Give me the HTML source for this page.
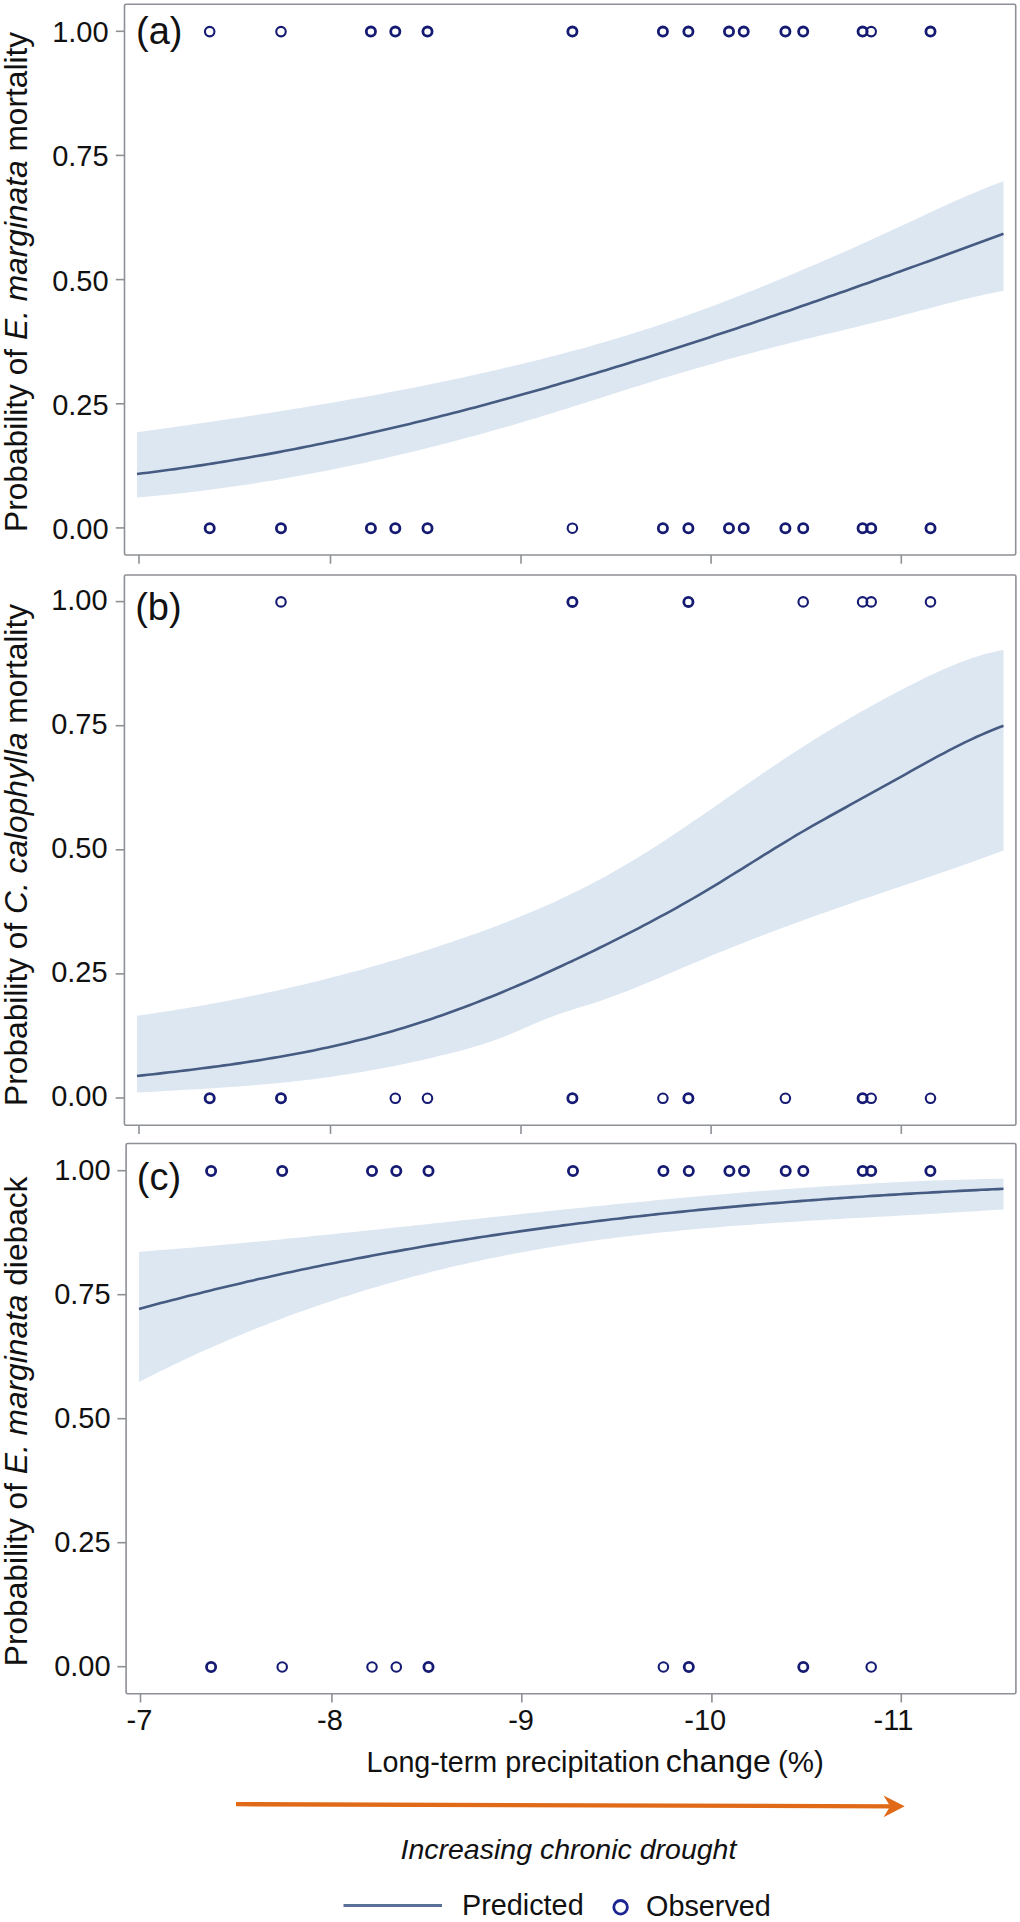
<!DOCTYPE html>
<html><head><meta charset="utf-8"><title>Figure</title>
<style>html,body{margin:0;padding:0;background:#fff;}svg{display:block;}</style>
</head><body>
<svg width="1020" height="1922" viewBox="0 0 1020 1922">
<rect width="1020" height="1922" fill="#fff"/>
<polygon points="137.0,432.3 142.4,431.5 147.9,430.8 153.3,430.0 158.8,429.2 164.2,428.5 169.7,427.7 175.1,426.9 180.6,426.1 186.0,425.4 191.5,424.6 196.9,423.8 202.4,423.0 207.8,422.2 213.3,421.4 218.7,420.6 224.2,419.8 229.6,419.0 235.1,418.2 240.5,417.4 246.0,416.5 251.4,415.7 256.9,414.9 262.3,414.0 267.8,413.2 273.2,412.3 278.7,411.5 284.1,410.6 289.6,409.7 295.0,408.8 300.5,407.9 305.9,407.0 311.4,406.1 316.8,405.2 322.3,404.3 327.7,403.4 333.2,402.5 338.6,401.5 344.1,400.6 349.5,399.6 355.0,398.6 360.4,397.7 365.9,396.7 371.3,395.7 376.8,394.7 382.2,393.7 387.7,392.6 393.1,391.6 398.6,390.6 404.0,389.5 409.5,388.4 414.9,387.4 420.4,386.3 425.8,385.2 431.3,384.1 436.7,383.0 442.2,381.8 447.6,380.7 453.1,379.5 458.5,378.4 464.0,377.2 469.4,376.0 474.9,374.8 480.3,373.6 485.8,372.4 491.2,371.1 496.7,369.9 502.1,368.6 507.6,367.3 513.0,366.0 518.5,364.7 523.9,363.4 529.4,362.1 534.8,360.7 540.3,359.4 545.7,358.0 551.2,356.6 556.6,355.2 562.1,353.7 567.5,352.3 573.0,350.8 578.4,349.4 583.9,347.9 589.3,346.4 594.8,344.8 600.2,343.3 605.7,341.7 611.1,340.1 616.6,338.5 622.0,336.8 627.5,335.2 632.9,333.5 638.4,331.8 643.8,330.0 649.3,328.3 654.7,326.5 660.2,324.7 665.6,322.8 671.1,321.0 676.5,319.1 682.0,317.2 687.4,315.2 692.9,313.3 698.3,311.3 703.8,309.3 709.2,307.3 714.7,305.2 720.1,303.2 725.6,301.1 731.0,299.0 736.5,296.8 741.9,294.7 747.4,292.5 752.8,290.4 758.3,288.2 763.7,286.0 769.2,283.8 774.6,281.5 780.1,279.3 785.5,277.0 791.0,274.7 796.4,272.4 801.9,270.1 807.3,267.8 812.8,265.5 818.2,263.2 823.7,260.8 829.1,258.4 834.6,256.1 840.0,253.7 845.5,251.3 850.9,248.9 856.4,246.5 861.8,244.0 867.3,241.6 872.7,239.1 878.2,236.6 883.6,234.1 889.1,231.6 894.5,229.1 900.0,226.6 905.4,224.1 910.9,221.5 916.3,219.0 921.8,216.4 927.2,213.8 932.7,211.3 938.1,208.8 943.6,206.3 949.0,203.8 954.5,201.3 959.9,198.9 965.4,196.5 970.8,194.2 976.3,191.9 981.7,189.6 987.2,187.5 992.6,185.3 998.1,183.3 1003.5,181.3 1003.5,290.8 998.1,291.8 992.6,292.9 987.2,294.0 981.7,295.2 976.3,296.4 970.8,297.7 965.4,299.0 959.9,300.3 954.5,301.7 949.0,303.1 943.6,304.5 938.1,306.0 932.7,307.4 927.2,308.9 921.8,310.3 916.3,311.8 910.9,313.2 905.4,314.6 900.0,316.1 894.5,317.5 889.1,318.9 883.6,320.2 878.2,321.6 872.7,322.9 867.3,324.3 861.8,325.6 856.4,326.9 850.9,328.2 845.5,329.6 840.0,330.9 834.6,332.2 829.1,333.5 823.7,334.8 818.2,336.1 812.8,337.4 807.3,338.8 801.9,340.1 796.4,341.5 791.0,342.8 785.5,344.2 780.1,345.6 774.6,347.0 769.2,348.4 763.7,349.8 758.3,351.2 752.8,352.7 747.4,354.2 741.9,355.6 736.5,357.1 731.0,358.6 725.6,360.1 720.1,361.6 714.7,363.2 709.2,364.7 703.8,366.3 698.3,367.8 692.9,369.4 687.4,371.0 682.0,372.6 676.5,374.2 671.1,375.8 665.6,377.5 660.2,379.1 654.7,380.8 649.3,382.5 643.8,384.2 638.4,385.9 632.9,387.6 627.5,389.3 622.0,391.0 616.6,392.8 611.1,394.5 605.7,396.2 600.2,398.0 594.8,399.7 589.3,401.5 583.9,403.2 578.4,404.9 573.0,406.6 567.5,408.4 562.1,410.1 556.6,411.8 551.2,413.5 545.7,415.1 540.3,416.8 534.8,418.4 529.4,420.1 523.9,421.7 518.5,423.3 513.0,424.9 507.6,426.5 502.1,428.0 496.7,429.6 491.2,431.1 485.8,432.7 480.3,434.2 474.9,435.7 469.4,437.1 464.0,438.6 458.5,440.1 453.1,441.5 447.6,442.9 442.2,444.3 436.7,445.7 431.3,447.1 425.8,448.5 420.4,449.8 414.9,451.2 409.5,452.5 404.0,453.8 398.6,455.1 393.1,456.3 387.7,457.6 382.2,458.9 376.8,460.1 371.3,461.3 365.9,462.5 360.4,463.7 355.0,464.8 349.5,466.0 344.1,467.1 338.6,468.2 333.2,469.3 327.7,470.4 322.3,471.5 316.8,472.5 311.4,473.6 305.9,474.6 300.5,475.6 295.0,476.6 289.6,477.6 284.1,478.5 278.7,479.4 273.2,480.4 267.8,481.3 262.3,482.1 256.9,483.0 251.4,483.9 246.0,484.7 240.5,485.5 235.1,486.3 229.6,487.1 224.2,487.8 218.7,488.6 213.3,489.3 207.8,490.0 202.4,490.7 196.9,491.4 191.5,492.0 186.0,492.7 180.6,493.3 175.1,493.9 169.7,494.5 164.2,495.0 158.8,495.6 153.3,496.1 147.9,496.6 142.4,497.1 137.0,497.6" fill="#dde7f2"/>
<polyline points="137.0,474.0 142.4,473.3 147.9,472.7 153.3,472.0 158.8,471.3 164.2,470.5 169.7,469.8 175.1,469.1 180.6,468.3 186.0,467.5 191.5,466.7 196.9,465.9 202.4,465.1 207.8,464.2 213.3,463.4 218.7,462.5 224.2,461.6 229.6,460.7 235.1,459.8 240.5,458.9 246.0,458.0 251.4,457.0 256.9,456.0 262.3,455.1 267.8,454.1 273.2,453.1 278.7,452.1 284.1,451.0 289.6,450.0 295.0,448.9 300.5,447.9 305.9,446.8 311.4,445.7 316.8,444.6 322.3,443.5 327.7,442.3 333.2,441.2 338.6,440.0 344.1,438.9 349.5,437.7 355.0,436.5 360.4,435.3 365.9,434.1 371.3,432.8 376.8,431.6 382.2,430.3 387.7,429.1 393.1,427.8 398.6,426.5 404.0,425.2 409.5,423.9 414.9,422.6 420.4,421.3 425.8,419.9 431.3,418.6 436.7,417.2 442.2,415.8 447.6,414.5 453.1,413.1 458.5,411.7 464.0,410.2 469.4,408.8 474.9,407.4 480.3,405.9 485.8,404.5 491.2,403.0 496.7,401.5 502.1,400.1 507.6,398.6 513.0,397.1 518.5,395.6 523.9,394.0 529.4,392.5 534.8,391.0 540.3,389.4 545.7,387.9 551.2,386.3 556.6,384.7 562.1,383.1 567.5,381.5 573.0,379.9 578.4,378.3 583.9,376.7 589.3,375.1 594.8,373.5 600.2,371.8 605.7,370.2 611.1,368.5 616.6,366.8 622.0,365.2 627.5,363.5 632.9,361.8 638.4,360.1 643.8,358.4 649.3,356.7 654.7,355.0 660.2,353.2 665.6,351.5 671.1,349.8 676.5,348.0 682.0,346.3 687.4,344.5 692.9,342.7 698.3,341.0 703.8,339.2 709.2,337.4 714.7,335.6 720.1,333.8 725.6,332.0 731.0,330.2 736.5,328.4 741.9,326.5 747.4,324.7 752.8,322.9 758.3,321.0 763.7,319.2 769.2,317.3 774.6,315.5 780.1,313.6 785.5,311.7 791.0,309.9 796.4,308.0 801.9,306.1 807.3,304.2 812.8,302.3 818.2,300.4 823.7,298.5 829.1,296.6 834.6,294.7 840.0,292.8 845.5,290.9 850.9,289.0 856.4,287.0 861.8,285.1 867.3,283.2 872.7,281.2 878.2,279.3 883.6,277.3 889.1,275.4 894.5,273.4 900.0,271.5 905.4,269.5 910.9,267.6 916.3,265.6 921.8,263.6 927.2,261.7 932.7,259.7 938.1,257.7 943.6,255.7 949.0,253.7 954.5,251.8 959.9,249.8 965.4,247.8 970.8,245.8 976.3,243.8 981.7,241.8 987.2,239.8 992.6,237.8 998.1,235.8 1003.5,233.8" fill="none" stroke="#465b82" stroke-width="2.6" stroke-linejoin="round"/>
<rect x="124.5" y="4.2" width="891.2" height="550.8" rx="1.5" fill="none" stroke="#8d9095" stroke-width="1.6"/>
<line x1="115.8" y1="31.3" x2="124.5" y2="31.3" stroke="#8d9095" stroke-width="1.6"/>
<text x="108.6" y="42.2" text-anchor="end" font-size="29" font-family='"Liberation Sans", Arial, sans-serif' fill="#111">1.00</text>
<line x1="115.8" y1="155.4" x2="124.5" y2="155.4" stroke="#8d9095" stroke-width="1.6"/>
<text x="108.6" y="166.3" text-anchor="end" font-size="29" font-family='"Liberation Sans", Arial, sans-serif' fill="#111">0.75</text>
<line x1="115.8" y1="279.6" x2="124.5" y2="279.6" stroke="#8d9095" stroke-width="1.6"/>
<text x="108.6" y="290.5" text-anchor="end" font-size="29" font-family='"Liberation Sans", Arial, sans-serif' fill="#111">0.50</text>
<line x1="115.8" y1="403.8" x2="124.5" y2="403.8" stroke="#8d9095" stroke-width="1.6"/>
<text x="108.6" y="414.6" text-anchor="end" font-size="29" font-family='"Liberation Sans", Arial, sans-serif' fill="#111">0.25</text>
<line x1="115.8" y1="527.9" x2="124.5" y2="527.9" stroke="#8d9095" stroke-width="1.6"/>
<text x="108.6" y="538.8" text-anchor="end" font-size="29" font-family='"Liberation Sans", Arial, sans-serif' fill="#111">0.00</text>
<line x1="139" y1="555.0" x2="139" y2="563.7" stroke="#8d9095" stroke-width="1.6"/>
<line x1="330.5" y1="555.0" x2="330.5" y2="563.7" stroke="#8d9095" stroke-width="1.6"/>
<line x1="521" y1="555.0" x2="521" y2="563.7" stroke="#8d9095" stroke-width="1.6"/>
<line x1="711.1" y1="555.0" x2="711.1" y2="563.7" stroke="#8d9095" stroke-width="1.6"/>
<line x1="901.3" y1="555.0" x2="901.3" y2="563.7" stroke="#8d9095" stroke-width="1.6"/>
<text x="136.0" y="43.6" font-size="38" font-family='"Liberation Sans", Arial, sans-serif' fill="#111">(a)</text>
<text transform="translate(27.2,532.0) rotate(-90)" font-size="31.7" font-family='"Liberation Sans", Arial, sans-serif' fill="#111">Probability of <tspan font-style="italic">E. marginata</tspan> mortality</text>
<circle cx="209.7" cy="31.6" r="4.75" fill="none" stroke="#151b73" stroke-width="2.1"/>
<circle cx="281.0" cy="31.6" r="4.75" fill="none" stroke="#151b73" stroke-width="2.1"/>
<circle cx="370.9" cy="31.6" r="4.6" fill="none" stroke="#151b73" stroke-width="2.8"/>
<circle cx="395.3" cy="31.6" r="4.6" fill="none" stroke="#151b73" stroke-width="2.8"/>
<circle cx="427.5" cy="31.6" r="4.6" fill="none" stroke="#151b73" stroke-width="2.8"/>
<circle cx="572.4" cy="31.6" r="4.6" fill="none" stroke="#151b73" stroke-width="2.8"/>
<circle cx="662.9" cy="31.6" r="4.6" fill="none" stroke="#151b73" stroke-width="2.8"/>
<circle cx="688.4" cy="31.6" r="4.6" fill="none" stroke="#151b73" stroke-width="2.8"/>
<circle cx="729.0" cy="31.6" r="4.6" fill="none" stroke="#151b73" stroke-width="2.8"/>
<circle cx="743.7" cy="31.6" r="4.6" fill="none" stroke="#151b73" stroke-width="2.8"/>
<circle cx="785.4" cy="31.6" r="4.6" fill="none" stroke="#151b73" stroke-width="2.8"/>
<circle cx="803.2" cy="31.6" r="4.6" fill="none" stroke="#151b73" stroke-width="2.8"/>
<circle cx="862.6" cy="31.6" r="4.6" fill="none" stroke="#151b73" stroke-width="2.8"/>
<circle cx="871.2" cy="31.6" r="4.75" fill="none" stroke="#151b73" stroke-width="2.1"/>
<circle cx="930.5" cy="31.6" r="4.6" fill="none" stroke="#151b73" stroke-width="2.8"/>
<circle cx="209.7" cy="528.2" r="4.6" fill="none" stroke="#151b73" stroke-width="2.8"/>
<circle cx="281.0" cy="528.2" r="4.6" fill="none" stroke="#151b73" stroke-width="2.8"/>
<circle cx="370.9" cy="528.2" r="4.6" fill="none" stroke="#151b73" stroke-width="2.8"/>
<circle cx="395.3" cy="528.2" r="4.6" fill="none" stroke="#151b73" stroke-width="2.8"/>
<circle cx="427.5" cy="528.2" r="4.6" fill="none" stroke="#151b73" stroke-width="2.8"/>
<circle cx="572.4" cy="528.2" r="4.75" fill="none" stroke="#151b73" stroke-width="2.1"/>
<circle cx="662.9" cy="528.2" r="4.6" fill="none" stroke="#151b73" stroke-width="2.8"/>
<circle cx="688.4" cy="528.2" r="4.6" fill="none" stroke="#151b73" stroke-width="2.8"/>
<circle cx="729.0" cy="528.2" r="4.6" fill="none" stroke="#151b73" stroke-width="2.8"/>
<circle cx="743.7" cy="528.2" r="4.6" fill="none" stroke="#151b73" stroke-width="2.8"/>
<circle cx="785.4" cy="528.2" r="4.6" fill="none" stroke="#151b73" stroke-width="2.8"/>
<circle cx="803.2" cy="528.2" r="4.6" fill="none" stroke="#151b73" stroke-width="2.8"/>
<circle cx="862.6" cy="528.2" r="4.6" fill="none" stroke="#151b73" stroke-width="2.8"/>
<circle cx="871.2" cy="528.2" r="4.6" fill="none" stroke="#151b73" stroke-width="2.8"/>
<circle cx="930.5" cy="528.2" r="4.6" fill="none" stroke="#151b73" stroke-width="2.8"/>
<polygon points="137.0,1015.7 142.4,1015.0 147.9,1014.2 153.3,1013.4 158.8,1012.6 164.2,1011.7 169.7,1010.9 175.1,1010.0 180.6,1009.1 186.0,1008.2 191.5,1007.3 196.9,1006.4 202.4,1005.4 207.8,1004.4 213.3,1003.4 218.7,1002.4 224.2,1001.4 229.6,1000.4 235.1,999.3 240.5,998.2 246.0,997.1 251.4,996.0 256.9,994.9 262.3,993.7 267.8,992.6 273.2,991.4 278.7,990.2 284.1,989.0 289.6,987.7 295.0,986.5 300.5,985.2 305.9,983.9 311.4,982.6 316.8,981.2 322.3,979.9 327.7,978.5 333.2,977.1 338.6,975.7 344.1,974.3 349.5,972.8 355.0,971.4 360.4,969.9 365.9,968.4 371.3,966.8 376.8,965.3 382.2,963.7 387.7,962.1 393.1,960.5 398.6,958.9 404.0,957.2 409.5,955.6 414.9,953.9 420.4,952.2 425.8,950.4 431.3,948.7 436.7,946.9 442.2,945.1 447.6,943.3 453.1,941.5 458.5,939.6 464.0,937.7 469.4,935.8 474.9,933.9 480.3,931.9 485.8,929.9 491.2,927.9 496.7,925.9 502.1,923.8 507.6,921.7 513.0,919.5 518.5,917.3 523.9,915.1 529.4,912.8 534.8,910.5 540.3,908.2 545.7,905.8 551.2,903.4 556.6,900.9 562.1,898.3 567.5,895.8 573.0,893.1 578.4,890.5 583.9,887.7 589.3,884.9 594.8,882.1 600.2,879.2 605.7,876.2 611.1,873.2 616.6,870.1 622.0,867.0 627.5,863.8 632.9,860.5 638.4,857.2 643.8,853.8 649.3,850.4 654.7,846.9 660.2,843.4 665.6,839.9 671.1,836.3 676.5,832.7 682.0,829.0 687.4,825.3 692.9,821.6 698.3,817.9 703.8,814.2 709.2,810.4 714.7,806.7 720.1,802.9 725.6,799.1 731.0,795.3 736.5,791.5 741.9,787.8 747.4,784.0 752.8,780.2 758.3,776.5 763.7,772.8 769.2,769.1 774.6,765.4 780.1,761.7 785.5,758.1 791.0,754.5 796.4,750.9 801.9,747.4 807.3,743.9 812.8,740.5 818.2,737.1 823.7,733.8 829.1,730.4 834.6,727.2 840.0,723.9 845.5,720.7 850.9,717.5 856.4,714.4 861.8,711.3 867.3,708.2 872.7,705.2 878.2,702.2 883.6,699.3 889.1,696.3 894.5,693.4 900.0,690.6 905.4,687.7 910.9,684.9 916.3,682.2 921.8,679.5 927.2,676.8 932.7,674.2 938.1,671.7 943.6,669.3 949.0,667.0 954.5,664.7 959.9,662.6 965.4,660.5 970.8,658.6 976.3,656.8 981.7,655.1 987.2,653.6 992.6,652.2 998.1,651.0 1003.5,649.9 1003.5,850.4 998.1,852.5 992.6,854.5 987.2,856.5 981.7,858.5 976.3,860.5 970.8,862.4 965.4,864.3 959.9,866.3 954.5,868.2 949.0,870.1 943.6,871.9 938.1,873.8 932.7,875.7 927.2,877.5 921.8,879.4 916.3,881.2 910.9,883.1 905.4,884.9 900.0,886.8 894.5,888.6 889.1,890.4 883.6,892.3 878.2,894.1 872.7,895.9 867.3,897.8 861.8,899.6 856.4,901.5 850.9,903.4 845.5,905.3 840.0,907.2 834.6,909.1 829.1,911.0 823.7,912.9 818.2,914.8 812.8,916.8 807.3,918.7 801.9,920.7 796.4,922.7 791.0,924.7 785.5,926.7 780.1,928.7 774.6,930.8 769.2,932.8 763.7,934.9 758.3,937.0 752.8,939.1 747.4,941.2 741.9,943.4 736.5,945.5 731.0,947.7 725.6,949.9 720.1,952.1 714.7,954.3 709.2,956.6 703.8,958.9 698.3,961.2 692.9,963.5 687.4,965.8 682.0,968.1 676.5,970.5 671.1,972.8 665.6,975.1 660.2,977.5 654.7,979.8 649.3,982.1 643.8,984.3 638.4,986.5 632.9,988.7 627.5,990.9 622.0,993.0 616.6,995.1 611.1,997.0 605.7,999.0 600.2,1000.9 594.8,1002.7 589.3,1004.4 583.9,1006.1 578.4,1007.8 573.0,1009.6 567.5,1011.3 562.1,1013.1 556.6,1015.0 551.2,1017.0 545.7,1019.1 540.3,1021.3 534.8,1023.6 529.4,1026.0 523.9,1028.3 518.5,1030.7 513.0,1033.0 507.6,1035.2 502.1,1037.4 496.7,1039.5 491.2,1041.4 485.8,1043.2 480.3,1045.0 474.9,1046.6 469.4,1048.2 464.0,1049.7 458.5,1051.2 453.1,1052.6 447.6,1053.9 442.2,1055.3 436.7,1056.6 431.3,1057.9 425.8,1059.2 420.4,1060.4 414.9,1061.6 409.5,1062.8 404.0,1063.9 398.6,1065.1 393.1,1066.2 387.7,1067.2 382.2,1068.3 376.8,1069.3 371.3,1070.3 365.9,1071.2 360.4,1072.2 355.0,1073.1 349.5,1074.0 344.1,1074.8 338.6,1075.6 333.2,1076.4 327.7,1077.2 322.3,1078.0 316.8,1078.7 311.4,1079.4 305.9,1080.1 300.5,1080.7 295.0,1081.3 289.6,1081.9 284.1,1082.5 278.7,1083.0 273.2,1083.6 267.8,1084.1 262.3,1084.6 256.9,1085.0 251.4,1085.5 246.0,1085.9 240.5,1086.3 235.1,1086.7 229.6,1087.1 224.2,1087.5 218.7,1087.8 213.3,1088.2 207.8,1088.5 202.4,1088.9 196.9,1089.2 191.5,1089.5 186.0,1089.8 180.6,1090.1 175.1,1090.5 169.7,1090.8 164.2,1091.1 158.8,1091.4 153.3,1091.7 147.9,1092.0 142.4,1092.3 137.0,1092.6" fill="#dde7f2"/>
<polyline points="137.0,1076.0 142.4,1075.4 147.9,1074.8 153.3,1074.2 158.8,1073.6 164.2,1072.9 169.7,1072.3 175.1,1071.7 180.6,1071.0 186.0,1070.4 191.5,1069.7 196.9,1069.0 202.4,1068.3 207.8,1067.6 213.3,1066.9 218.7,1066.2 224.2,1065.4 229.6,1064.7 235.1,1063.9 240.5,1063.1 246.0,1062.3 251.4,1061.4 256.9,1060.6 262.3,1059.7 267.8,1058.8 273.2,1057.9 278.7,1057.0 284.1,1056.0 289.6,1055.0 295.0,1054.0 300.5,1053.0 305.9,1051.9 311.4,1050.9 316.8,1049.7 322.3,1048.6 327.7,1047.4 333.2,1046.2 338.6,1045.0 344.1,1043.8 349.5,1042.5 355.0,1041.1 360.4,1039.8 365.9,1038.4 371.3,1037.0 376.8,1035.5 382.2,1034.0 387.7,1032.5 393.1,1030.9 398.6,1029.3 404.0,1027.7 409.5,1026.0 414.9,1024.3 420.4,1022.6 425.8,1020.8 431.3,1018.9 436.7,1017.1 442.2,1015.2 447.6,1013.3 453.1,1011.3 458.5,1009.3 464.0,1007.3 469.4,1005.2 474.9,1003.1 480.3,1001.0 485.8,998.8 491.2,996.7 496.7,994.5 502.1,992.2 507.6,989.9 513.0,987.6 518.5,985.3 523.9,983.0 529.4,980.6 534.8,978.2 540.3,975.8 545.7,973.3 551.2,970.8 556.6,968.3 562.1,965.8 567.5,963.2 573.0,960.7 578.4,958.1 583.9,955.5 589.3,952.8 594.8,950.2 600.2,947.5 605.7,944.8 611.1,942.1 616.6,939.4 622.0,936.7 627.5,933.9 632.9,931.1 638.4,928.3 643.8,925.4 649.3,922.6 654.7,919.7 660.2,916.7 665.6,913.8 671.1,910.8 676.5,907.8 682.0,904.7 687.4,901.7 692.9,898.5 698.3,895.3 703.8,892.1 709.2,888.9 714.7,885.6 720.1,882.3 725.6,878.9 731.0,875.5 736.5,872.2 741.9,868.8 747.4,865.4 752.8,862.0 758.3,858.6 763.7,855.2 769.2,851.8 774.6,848.4 780.1,845.1 785.5,841.8 791.0,838.5 796.4,835.2 801.9,832.0 807.3,828.9 812.8,825.7 818.2,822.6 823.7,819.6 829.1,816.5 834.6,813.5 840.0,810.5 845.5,807.5 850.9,804.4 856.4,801.4 861.8,798.4 867.3,795.4 872.7,792.4 878.2,789.4 883.6,786.4 889.1,783.4 894.5,780.3 900.0,777.3 905.4,774.3 910.9,771.2 916.3,768.2 921.8,765.1 927.2,762.1 932.7,759.2 938.1,756.2 943.6,753.3 949.0,750.4 954.5,747.6 959.9,744.9 965.4,742.2 970.8,739.6 976.3,737.0 981.7,734.6 987.2,732.2 992.6,730.0 998.1,727.8 1003.5,725.8" fill="none" stroke="#465b82" stroke-width="2.6" stroke-linejoin="round"/>
<rect x="124.4" y="575.0" width="891.5" height="550.2" rx="1.5" fill="none" stroke="#8d9095" stroke-width="1.6"/>
<line x1="115.7" y1="601.6" x2="124.4" y2="601.6" stroke="#8d9095" stroke-width="1.6"/>
<text x="107.6" y="609.6" text-anchor="end" font-size="29" font-family='"Liberation Sans", Arial, sans-serif' fill="#111">1.00</text>
<line x1="115.7" y1="725.7" x2="124.4" y2="725.7" stroke="#8d9095" stroke-width="1.6"/>
<text x="107.6" y="733.7" text-anchor="end" font-size="29" font-family='"Liberation Sans", Arial, sans-serif' fill="#111">0.75</text>
<line x1="115.7" y1="849.8" x2="124.4" y2="849.8" stroke="#8d9095" stroke-width="1.6"/>
<text x="107.6" y="857.8" text-anchor="end" font-size="29" font-family='"Liberation Sans", Arial, sans-serif' fill="#111">0.50</text>
<line x1="115.7" y1="973.9" x2="124.4" y2="973.9" stroke="#8d9095" stroke-width="1.6"/>
<text x="107.6" y="981.9" text-anchor="end" font-size="29" font-family='"Liberation Sans", Arial, sans-serif' fill="#111">0.25</text>
<line x1="115.7" y1="1098.0" x2="124.4" y2="1098.0" stroke="#8d9095" stroke-width="1.6"/>
<text x="107.6" y="1106.0" text-anchor="end" font-size="29" font-family='"Liberation Sans", Arial, sans-serif' fill="#111">0.00</text>
<line x1="139" y1="1125.2" x2="139" y2="1133.9" stroke="#8d9095" stroke-width="1.6"/>
<line x1="330.5" y1="1125.2" x2="330.5" y2="1133.9" stroke="#8d9095" stroke-width="1.6"/>
<line x1="521" y1="1125.2" x2="521" y2="1133.9" stroke="#8d9095" stroke-width="1.6"/>
<line x1="711.1" y1="1125.2" x2="711.1" y2="1133.9" stroke="#8d9095" stroke-width="1.6"/>
<line x1="901.3" y1="1125.2" x2="901.3" y2="1133.9" stroke="#8d9095" stroke-width="1.6"/>
<text x="135.2" y="619.6" font-size="38" font-family='"Liberation Sans", Arial, sans-serif' fill="#111">(b)</text>
<text transform="translate(27.2,1105.9) rotate(-90)" font-size="31.7" font-family='"Liberation Sans", Arial, sans-serif' fill="#111">Probability of <tspan font-style="italic">C. calophylla</tspan> mortality</text>
<circle cx="281.0" cy="601.9" r="4.75" fill="none" stroke="#151b73" stroke-width="2.1"/>
<circle cx="572.4" cy="601.9" r="4.6" fill="none" stroke="#151b73" stroke-width="2.8"/>
<circle cx="688.4" cy="601.9" r="4.6" fill="none" stroke="#151b73" stroke-width="2.8"/>
<circle cx="803.2" cy="601.9" r="4.75" fill="none" stroke="#151b73" stroke-width="2.1"/>
<circle cx="862.6" cy="601.9" r="4.75" fill="none" stroke="#151b73" stroke-width="2.1"/>
<circle cx="871.2" cy="601.9" r="4.75" fill="none" stroke="#151b73" stroke-width="2.1"/>
<circle cx="930.5" cy="601.9" r="4.75" fill="none" stroke="#151b73" stroke-width="2.1"/>
<circle cx="209.7" cy="1098.3" r="4.6" fill="none" stroke="#151b73" stroke-width="2.8"/>
<circle cx="281.0" cy="1098.3" r="4.6" fill="none" stroke="#151b73" stroke-width="2.8"/>
<circle cx="395.3" cy="1098.3" r="4.75" fill="none" stroke="#151b73" stroke-width="2.1"/>
<circle cx="427.5" cy="1098.3" r="4.75" fill="none" stroke="#151b73" stroke-width="2.1"/>
<circle cx="572.4" cy="1098.3" r="4.6" fill="none" stroke="#151b73" stroke-width="2.8"/>
<circle cx="662.9" cy="1098.3" r="4.75" fill="none" stroke="#151b73" stroke-width="2.1"/>
<circle cx="688.4" cy="1098.3" r="4.6" fill="none" stroke="#151b73" stroke-width="2.8"/>
<circle cx="785.4" cy="1098.3" r="4.75" fill="none" stroke="#151b73" stroke-width="2.1"/>
<circle cx="862.6" cy="1098.3" r="4.6" fill="none" stroke="#151b73" stroke-width="2.8"/>
<circle cx="871.2" cy="1098.3" r="4.75" fill="none" stroke="#151b73" stroke-width="2.1"/>
<circle cx="930.5" cy="1098.3" r="4.75" fill="none" stroke="#151b73" stroke-width="2.1"/>
<polygon points="139.0,1251.8 144.4,1251.4 149.9,1251.0 155.3,1250.5 160.7,1250.1 166.2,1249.7 171.6,1249.2 177.1,1248.8 182.5,1248.3 187.9,1247.9 193.4,1247.4 198.8,1246.9 204.2,1246.5 209.7,1246.0 215.1,1245.5 220.6,1245.0 226.0,1244.5 231.4,1244.0 236.9,1243.5 242.3,1243.0 247.7,1242.5 253.2,1242.0 258.6,1241.5 264.1,1241.0 269.5,1240.4 274.9,1239.9 280.4,1239.4 285.8,1238.8 291.2,1238.3 296.7,1237.8 302.1,1237.2 307.6,1236.7 313.0,1236.1 318.4,1235.6 323.9,1235.0 329.3,1234.5 334.7,1233.9 340.2,1233.3 345.6,1232.8 351.0,1232.2 356.5,1231.7 361.9,1231.1 367.4,1230.5 372.8,1229.9 378.2,1229.4 383.7,1228.8 389.1,1228.2 394.5,1227.6 400.0,1227.1 405.4,1226.5 410.9,1225.9 416.3,1225.3 421.7,1224.7 427.2,1224.2 432.6,1223.6 438.0,1223.0 443.5,1222.4 448.9,1221.8 454.4,1221.2 459.8,1220.6 465.2,1220.1 470.7,1219.5 476.1,1218.9 481.5,1218.3 487.0,1217.7 492.4,1217.1 497.8,1216.6 503.3,1216.0 508.7,1215.4 514.2,1214.8 519.6,1214.2 525.0,1213.6 530.5,1213.1 535.9,1212.5 541.3,1211.9 546.8,1211.3 552.2,1210.8 557.7,1210.2 563.1,1209.6 568.5,1209.1 574.0,1208.5 579.4,1207.9 584.8,1207.4 590.3,1206.8 595.7,1206.3 601.2,1205.7 606.6,1205.2 612.0,1204.6 617.5,1204.1 622.9,1203.5 628.3,1203.0 633.8,1202.5 639.2,1201.9 644.7,1201.4 650.1,1200.9 655.5,1200.3 661.0,1199.8 666.4,1199.3 671.8,1198.8 677.3,1198.3 682.7,1197.8 688.1,1197.3 693.6,1196.8 699.0,1196.3 704.5,1195.8 709.9,1195.3 715.3,1194.9 720.8,1194.4 726.2,1193.9 731.6,1193.4 737.1,1193.0 742.5,1192.5 748.0,1192.1 753.4,1191.6 758.8,1191.2 764.3,1190.8 769.7,1190.4 775.1,1189.9 780.6,1189.5 786.0,1189.1 791.5,1188.7 796.9,1188.3 802.3,1187.9 807.8,1187.5 813.2,1187.2 818.6,1186.8 824.1,1186.4 829.5,1186.1 834.9,1185.7 840.4,1185.4 845.8,1185.0 851.3,1184.7 856.7,1184.4 862.1,1184.0 867.6,1183.7 873.0,1183.4 878.4,1183.1 883.9,1182.9 889.3,1182.6 894.8,1182.3 900.2,1182.0 905.6,1181.8 911.1,1181.5 916.5,1181.3 921.9,1181.1 927.4,1180.8 932.8,1180.6 938.3,1180.4 943.7,1180.2 949.1,1180.0 954.6,1179.9 960.0,1179.7 965.4,1179.5 970.9,1179.4 976.3,1179.2 981.8,1179.1 987.2,1179.0 992.6,1178.9 998.1,1178.8 1003.5,1178.7 1003.5,1209.4 998.1,1209.7 992.6,1210.1 987.2,1210.5 981.8,1210.8 976.3,1211.2 970.9,1211.5 965.4,1211.8 960.0,1212.2 954.6,1212.5 949.1,1212.8 943.7,1213.1 938.3,1213.5 932.8,1213.8 927.4,1214.1 921.9,1214.4 916.5,1214.7 911.1,1215.0 905.6,1215.3 900.2,1215.6 894.8,1215.9 889.3,1216.2 883.9,1216.5 878.4,1216.8 873.0,1217.1 867.6,1217.4 862.1,1217.7 856.7,1218.0 851.3,1218.3 845.8,1218.6 840.4,1218.9 834.9,1219.2 829.5,1219.5 824.1,1219.9 818.6,1220.2 813.2,1220.5 807.8,1220.8 802.3,1221.2 796.9,1221.5 791.5,1221.9 786.0,1222.2 780.6,1222.6 775.1,1222.9 769.7,1223.3 764.3,1223.7 758.8,1224.1 753.4,1224.5 748.0,1224.9 742.5,1225.3 737.1,1225.7 731.6,1226.1 726.2,1226.5 720.8,1227.0 715.3,1227.4 709.9,1227.9 704.5,1228.3 699.0,1228.8 693.6,1229.3 688.1,1229.8 682.7,1230.3 677.3,1230.9 671.8,1231.4 666.4,1232.0 661.0,1232.5 655.5,1233.1 650.1,1233.7 644.7,1234.3 639.2,1234.9 633.8,1235.5 628.3,1236.2 622.9,1236.8 617.5,1237.5 612.0,1238.2 606.6,1238.9 601.2,1239.6 595.7,1240.4 590.3,1241.1 584.8,1241.9 579.4,1242.7 574.0,1243.5 568.5,1244.3 563.1,1245.2 557.7,1246.1 552.2,1246.9 546.8,1247.8 541.3,1248.8 535.9,1249.7 530.5,1250.7 525.0,1251.7 519.6,1252.7 514.2,1253.7 508.7,1254.7 503.3,1255.8 497.8,1256.9 492.4,1258.0 487.0,1259.1 481.5,1260.3 476.1,1261.4 470.7,1262.6 465.2,1263.9 459.8,1265.1 454.4,1266.3 448.9,1267.6 443.5,1268.9 438.0,1270.3 432.6,1271.6 427.2,1273.0 421.7,1274.4 416.3,1275.8 410.9,1277.2 405.4,1278.7 400.0,1280.2 394.5,1281.7 389.1,1283.2 383.7,1284.8 378.2,1286.4 372.8,1288.0 367.4,1289.6 361.9,1291.3 356.5,1293.0 351.0,1294.7 345.6,1296.4 340.2,1298.1 334.7,1299.9 329.3,1301.7 323.9,1303.6 318.4,1305.4 313.0,1307.3 307.6,1309.2 302.1,1311.2 296.7,1313.1 291.2,1315.1 285.8,1317.1 280.4,1319.2 274.9,1321.2 269.5,1323.3 264.1,1325.4 258.6,1327.6 253.2,1329.8 247.7,1332.0 242.3,1334.2 236.9,1336.5 231.4,1338.8 226.0,1341.1 220.6,1343.4 215.1,1345.8 209.7,1348.2 204.2,1350.6 198.8,1353.1 193.4,1355.6 187.9,1358.1 182.5,1360.6 177.1,1363.2 171.6,1365.8 166.2,1368.4 160.7,1371.1 155.3,1373.8 149.9,1376.5 144.4,1379.3 139.0,1382.0" fill="#dde7f2"/>
<polyline points="139.0,1308.9 144.4,1307.5 149.9,1306.0 155.3,1304.6 160.7,1303.1 166.2,1301.7 171.6,1300.3 177.1,1298.9 182.5,1297.5 187.9,1296.1 193.4,1294.7 198.8,1293.4 204.2,1292.0 209.7,1290.7 215.1,1289.3 220.6,1288.0 226.0,1286.7 231.4,1285.4 236.9,1284.2 242.3,1282.9 247.7,1281.6 253.2,1280.4 258.6,1279.1 264.1,1277.9 269.5,1276.7 274.9,1275.5 280.4,1274.3 285.8,1273.1 291.2,1271.9 296.7,1270.8 302.1,1269.6 307.6,1268.5 313.0,1267.3 318.4,1266.2 323.9,1265.1 329.3,1264.0 334.7,1262.9 340.2,1261.8 345.6,1260.8 351.0,1259.7 356.5,1258.6 361.9,1257.6 367.4,1256.6 372.8,1255.5 378.2,1254.5 383.7,1253.5 389.1,1252.5 394.5,1251.6 400.0,1250.6 405.4,1249.6 410.9,1248.7 416.3,1247.7 421.7,1246.8 427.2,1245.8 432.6,1244.9 438.0,1244.0 443.5,1243.1 448.9,1242.2 454.4,1241.3 459.8,1240.5 465.2,1239.6 470.7,1238.7 476.1,1237.9 481.5,1237.0 487.0,1236.2 492.4,1235.4 497.8,1234.6 503.3,1233.8 508.7,1233.0 514.2,1232.2 519.6,1231.4 525.0,1230.6 530.5,1229.9 535.9,1229.1 541.3,1228.4 546.8,1227.6 552.2,1226.9 557.7,1226.2 563.1,1225.4 568.5,1224.7 574.0,1224.0 579.4,1223.3 584.8,1222.7 590.3,1222.0 595.7,1221.3 601.2,1220.6 606.6,1220.0 612.0,1219.3 617.5,1218.7 622.9,1218.1 628.3,1217.4 633.8,1216.8 639.2,1216.2 644.7,1215.6 650.1,1215.0 655.5,1214.4 661.0,1213.8 666.4,1213.3 671.8,1212.7 677.3,1212.1 682.7,1211.6 688.1,1211.0 693.6,1210.5 699.0,1209.9 704.5,1209.4 709.9,1208.9 715.3,1208.4 720.8,1207.9 726.2,1207.4 731.6,1206.9 737.1,1206.4 742.5,1205.9 748.0,1205.4 753.4,1204.9 758.8,1204.5 764.3,1204.0 769.7,1203.5 775.1,1203.1 780.6,1202.7 786.0,1202.2 791.5,1201.8 796.9,1201.4 802.3,1200.9 807.8,1200.5 813.2,1200.1 818.6,1199.7 824.1,1199.3 829.5,1198.9 834.9,1198.5 840.4,1198.1 845.8,1197.8 851.3,1197.4 856.7,1197.0 862.1,1196.7 867.6,1196.3 873.0,1195.9 878.4,1195.6 883.9,1195.3 889.3,1194.9 894.8,1194.6 900.2,1194.3 905.6,1193.9 911.1,1193.6 916.5,1193.3 921.9,1193.0 927.4,1192.7 932.8,1192.4 938.3,1192.1 943.7,1191.8 949.1,1191.5 954.6,1191.2 960.0,1190.9 965.4,1190.6 970.9,1190.4 976.3,1190.1 981.8,1189.8 987.2,1189.6 992.6,1189.3 998.1,1189.1 1003.5,1188.8" fill="none" stroke="#465b82" stroke-width="2.6" stroke-linejoin="round"/>
<rect x="126.1" y="1143.5" width="889.8" height="550.3" rx="1.5" fill="none" stroke="#8d9095" stroke-width="1.6"/>
<line x1="117.4" y1="1170.7" x2="126.1" y2="1170.7" stroke="#8d9095" stroke-width="1.6"/>
<text x="110.6" y="1180.4" text-anchor="end" font-size="29" font-family='"Liberation Sans", Arial, sans-serif' fill="#111">1.00</text>
<line x1="117.4" y1="1294.7" x2="126.1" y2="1294.7" stroke="#8d9095" stroke-width="1.6"/>
<text x="110.6" y="1304.4" text-anchor="end" font-size="29" font-family='"Liberation Sans", Arial, sans-serif' fill="#111">0.75</text>
<line x1="117.4" y1="1418.7" x2="126.1" y2="1418.7" stroke="#8d9095" stroke-width="1.6"/>
<text x="110.6" y="1428.4" text-anchor="end" font-size="29" font-family='"Liberation Sans", Arial, sans-serif' fill="#111">0.50</text>
<line x1="117.4" y1="1542.7" x2="126.1" y2="1542.7" stroke="#8d9095" stroke-width="1.6"/>
<text x="110.6" y="1552.4" text-anchor="end" font-size="29" font-family='"Liberation Sans", Arial, sans-serif' fill="#111">0.25</text>
<line x1="117.4" y1="1666.7" x2="126.1" y2="1666.7" stroke="#8d9095" stroke-width="1.6"/>
<text x="110.6" y="1676.4" text-anchor="end" font-size="29" font-family='"Liberation Sans", Arial, sans-serif' fill="#111">0.00</text>
<line x1="140.5" y1="1693.8" x2="140.5" y2="1702.5" stroke="#8d9095" stroke-width="1.6"/>
<line x1="331.9" y1="1693.8" x2="331.9" y2="1702.5" stroke="#8d9095" stroke-width="1.6"/>
<line x1="521.8" y1="1693.8" x2="521.8" y2="1702.5" stroke="#8d9095" stroke-width="1.6"/>
<line x1="711.9" y1="1693.8" x2="711.9" y2="1702.5" stroke="#8d9095" stroke-width="1.6"/>
<line x1="901.3" y1="1693.8" x2="901.3" y2="1702.5" stroke="#8d9095" stroke-width="1.6"/>
<text x="136.8" y="1189.5" font-size="38" font-family='"Liberation Sans", Arial, sans-serif' fill="#111">(c)</text>
<text transform="translate(27.2,1666.2) rotate(-90)" font-size="31.7" font-family='"Liberation Sans", Arial, sans-serif' fill="#111">Probability of <tspan font-style="italic">E. marginata</tspan> dieback</text>
<circle cx="211.1" cy="1171.0" r="4.6" fill="none" stroke="#151b73" stroke-width="2.8"/>
<circle cx="282.2" cy="1171.0" r="4.6" fill="none" stroke="#151b73" stroke-width="2.8"/>
<circle cx="372.0" cy="1171.0" r="4.6" fill="none" stroke="#151b73" stroke-width="2.8"/>
<circle cx="396.3" cy="1171.0" r="4.6" fill="none" stroke="#151b73" stroke-width="2.8"/>
<circle cx="428.5" cy="1171.0" r="4.6" fill="none" stroke="#151b73" stroke-width="2.8"/>
<circle cx="573.0" cy="1171.0" r="4.6" fill="none" stroke="#151b73" stroke-width="2.8"/>
<circle cx="663.4" cy="1171.0" r="4.6" fill="none" stroke="#151b73" stroke-width="2.8"/>
<circle cx="688.8" cy="1171.0" r="4.6" fill="none" stroke="#151b73" stroke-width="2.8"/>
<circle cx="729.4" cy="1171.0" r="4.6" fill="none" stroke="#151b73" stroke-width="2.8"/>
<circle cx="744.0" cy="1171.0" r="4.6" fill="none" stroke="#151b73" stroke-width="2.8"/>
<circle cx="785.7" cy="1171.0" r="4.6" fill="none" stroke="#151b73" stroke-width="2.8"/>
<circle cx="803.3" cy="1171.0" r="4.6" fill="none" stroke="#151b73" stroke-width="2.8"/>
<circle cx="862.7" cy="1171.0" r="4.6" fill="none" stroke="#151b73" stroke-width="2.8"/>
<circle cx="871.2" cy="1171.0" r="4.6" fill="none" stroke="#151b73" stroke-width="2.8"/>
<circle cx="930.4" cy="1171.0" r="4.6" fill="none" stroke="#151b73" stroke-width="2.8"/>
<circle cx="211.1" cy="1667.0" r="4.6" fill="none" stroke="#151b73" stroke-width="2.8"/>
<circle cx="282.2" cy="1667.0" r="4.75" fill="none" stroke="#151b73" stroke-width="2.1"/>
<circle cx="372.0" cy="1667.0" r="4.75" fill="none" stroke="#151b73" stroke-width="2.1"/>
<circle cx="396.3" cy="1667.0" r="4.75" fill="none" stroke="#151b73" stroke-width="2.1"/>
<circle cx="428.5" cy="1667.0" r="4.6" fill="none" stroke="#151b73" stroke-width="2.8"/>
<circle cx="663.4" cy="1667.0" r="4.75" fill="none" stroke="#151b73" stroke-width="2.1"/>
<circle cx="688.8" cy="1667.0" r="4.6" fill="none" stroke="#151b73" stroke-width="2.8"/>
<circle cx="803.3" cy="1667.0" r="4.6" fill="none" stroke="#151b73" stroke-width="2.8"/>
<circle cx="871.2" cy="1667.0" r="4.75" fill="none" stroke="#151b73" stroke-width="2.1"/>
<text x="139.5" y="1730" text-anchor="middle" font-size="29" font-family='"Liberation Sans", Arial, sans-serif' fill="#111">-7</text>
<text x="329.9" y="1730" text-anchor="middle" font-size="29" font-family='"Liberation Sans", Arial, sans-serif' fill="#111">-8</text>
<text x="521.1" y="1730" text-anchor="middle" font-size="29" font-family='"Liberation Sans", Arial, sans-serif' fill="#111">-9</text>
<text x="705.2" y="1730" text-anchor="middle" font-size="29" font-family='"Liberation Sans", Arial, sans-serif' fill="#111">-10</text>
<text x="893.5" y="1730" text-anchor="middle" font-size="29" font-family='"Liberation Sans", Arial, sans-serif' fill="#111">-11</text>
<text y="1772" font-family='"Liberation Sans", Arial, sans-serif' fill="#111"><tspan x="366.5" font-size="28.7">Long-term precipitation</tspan> <tspan x="665.8" font-size="32">change</tspan> <tspan x="778" font-size="29.5">(%)</tspan></text>
<line x1="236" y1="1804.2" x2="892" y2="1806.3" stroke="#e06a17" stroke-width="4.3"/>
<polygon points="883.5,1795.6 904.7,1806.2 883.5,1817.2 890.2,1806.2" fill="#e06a17"/>
<text x="400.5" y="1858.5" font-size="28.5" font-style="italic" font-family='"Liberation Sans", Arial, sans-serif' fill="#111">Increasing chronic drought</text>
<line x1="343.5" y1="1905.5" x2="442" y2="1905.5" stroke="#5a7096" stroke-width="2.8"/>
<text x="462" y="1914.5" font-size="28.8" font-family='"Liberation Sans", Arial, sans-serif' fill="#111">Predicted</text>
<circle cx="620.6" cy="1907.3" r="6.8" fill="none" stroke="#1c2590" stroke-width="2.8"/>
<text x="646" y="1916" font-size="28.8" font-family='"Liberation Sans", Arial, sans-serif' fill="#111">Observed</text>
</svg>
</body></html>
